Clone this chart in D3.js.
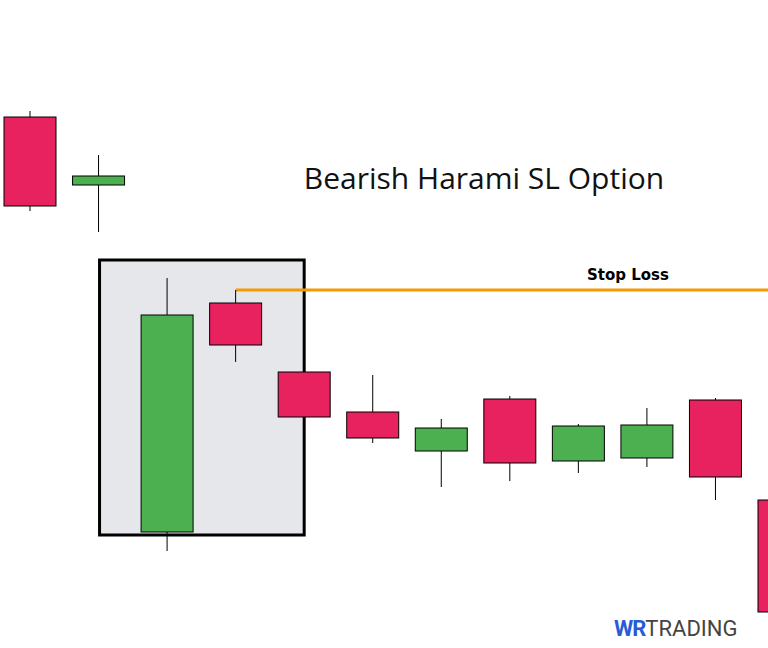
<!DOCTYPE html>
<html><head><meta charset="utf-8">
<script src="https://cdn.jsdelivr.net/npm/d3@7"></script>
<style>body{margin:0;background:#fff}svg{display:block}</style>
</head><body>
<svg id="c" width="768" height="648"></svg>
<script>
// candle data (price units, higher = up)
var idx   = [0,1,2,3,4,5,6,7,8,9,10,11];
var open  = [531,463,116,345,276,236,197,249,187,190,248,148];
var close = [442,472,333,303,231,210,220,185,222,223,171,36];
var high  = [537,493,370,358,276,273,229,252,224,240,250,148];
var low   = [437,416,97,286,231,205,161,167,175,181,148,36];

var svg = d3.select("#c");
var x = d3.scaleLinear().domain([0,11]).range([30,784]);
var y = d3.scaleLinear().domain([0,648]).range([648,0]);
var bw = 52;

// pattern box
svg.append("rect").attr("x",x(1)+1).attr("y",y(388)).attr("width",x(4)-x(1)-1)
  .attr("height",y(113)-y(388)).attr("fill","#e6e7eb").attr("stroke","#000").attr("stroke-width",3);

// stop loss
svg.append("line").attr("x1",x(3)).attr("x2",768).attr("y1",y(358)).attr("y2",y(358))
  .attr("stroke","#f59a00").attr("stroke-width",3);
svg.append("text").attr("x",628).attr("y",280).attr("text-anchor","middle")
  .attr("font-family","DejaVu Sans").attr("font-weight","bold").attr("font-size",15).text("Stop Loss");

var g = svg.selectAll("g.cd").data(idx).enter().append("g");
g.append("line").attr("x1",d=>x(d)).attr("x2",d=>x(d)).attr("y1",d=>y(high[d])).attr("y2",d=>y(low[d]))
  .attr("stroke","#000").attr("stroke-width",1);
g.append("rect").attr("x",d=>x(d)-bw/2).attr("width",bw)
  .attr("y",d=>y(Math.max(open[d],close[d])))
  .attr("height",d=>Math.abs(y(open[d])-y(close[d])))
  .attr("fill",d=>close[d]>open[d]?"#4caf50":"#e8215f").attr("stroke","#000").attr("stroke-width",1);

svg.append("text").attr("x",484).attr("y",189).attr("text-anchor","middle")
  .attr("font-family","Open Sans").attr("font-size",30).attr("fill","#111").text("Bearish Harami SL Option");

var t = svg.append("text").attr("x",614).attr("y",636).attr("font-family","Roboto").attr("font-size",22);
t.append("tspan").attr("fill","#2a5bd7").attr("font-weight","bold").attr("letter-spacing",-1).text("WR");
t.append("tspan").attr("fill","#444").text("TRADING");
</script>
</body></html>
